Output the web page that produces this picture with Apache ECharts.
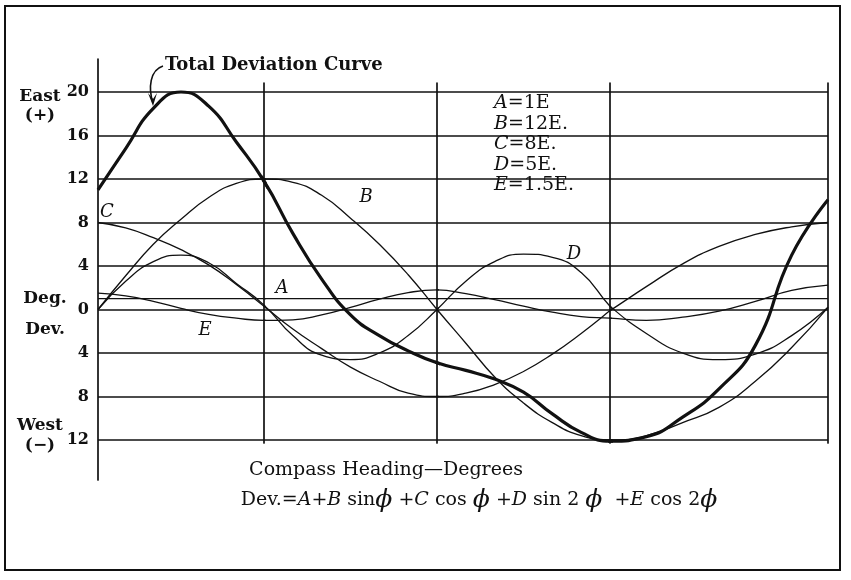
<!DOCTYPE html>
<html><head><meta charset="utf-8">
<script src="https://cdn.jsdelivr.net/npm/echarts@6/dist/echarts.min.js"></script>
<style>html,body{margin:0;padding:0;background:#fff}#c{width:851px;height:580px}</style>
</head><body><div id="c"></div>
<script>
// ---- data ----
const headings = [0,15,30,45,60,75,90,105,120,135,150,165,180,195,210,225,240,255,270,285,300,315,330,345,360];
const curveA = [1,1,1,1,1,1,1,1,1,1,1,1,1,1,1,1,1,1,1,1,1,1,1,1,1];
const curveB = [0,3.1,6.0,8.3,10.3,11.6,12.0,11.7,10.5,8.4,6.0,3.2,0,-3.1,-6.2,-8.6,-10.4,-11.6,-12.0,-11.6,-10.4,-9.0,-6.6,-3.5,0.2];
const curveC = [8.0,7.5,6.6,5.5,4.1,2.3,0.3,-1.8,-3.6,-5.3,-6.6,-7.7,-8.0,-7.7,-6.9,-5.7,-4.1,-2.2,-0.1,2.1,4.2,5.8,6.9,7.6,8.0];
const curveD = [0,2.6,4.4,5.0,4.3,2.4,0.4,-2.4,-4.2,-4.6,-4.0,-2.4,0,2.6,4.4,5.1,4.8,3.4,0.3,-2.2,-4.0,-4.6,-4.1,-2.4,0.2];
const curveE = [1.5,1.25,0.75,0.1,-0.45,-0.8,-1.0,-0.95,-0.5,0.2,0.95,1.55,1.8,1.45,0.9,0.3,-0.25,-0.65,-0.8,-1.0,-0.7,-0.15,0.75,1.75,2.25];
const totalDeviation = [11.0,14.8,18.5,20.0,18.7,15.4,11.8,7.0,2.8,-0.5,-2.4,-3.8,-4.9,-5.6,-6.4,-7.6,-9.6,-11.3,-12.1,-11.7,-9.9,-7.3,-3.3,5.0,10.1];
const quadrantEdges = [0,90,180,270,360];
const yMin = -12, yMax = 20, yStep = 4;
const curveLetters = ['A','B','C','D','E'];
const letterValues = ['1E','12E.','8E.','5E.','1.5E.'];

// ---- layout ----
const FONT = 'DejaVu Serif';
const INK = '#111';
const plotTop = 92, plotBottom = 440;            // pixel rows of 20 and -12
const pxPerUnit = (plotBottom - plotTop) / (yMax - yMin);
const quadPx = [98, 264, 437, 610, 828];          // hand-drawn vertical rules
const quadV = [[59,480],[83,443],[83,443],[83,443]];

const chart = echarts.init(document.getElementById('c'), null, {renderer:'canvas'});

const grids = [{left:quadPx[0], width:quadPx[4]-quadPx[0], top:plotTop, height:plotBottom-plotTop}];
const xAxes = [{gridIndex:0, type:'value', min:0, max:360, show:false}];
const yAxes = [{
  gridIndex:0, type:'value', min:yMin, max:yMax, interval:yStep,
  axisLine:{show:false}, axisTick:{show:false},
  splitLine:{show:true, lineStyle:{color:INK, width:1.6}},
  axisLabel:{formatter:v=>String(Math.abs(v)), fontFamily:FONT, fontWeight:'bold', fontSize:16, color:INK, margin:9}
}];
const vLine = {show:true, onZero:false, lineStyle:{color:INK, width:1.7}};
for (let q = 0; q < 4; q++) {
  const [t, b] = quadV[q];
  grids.push({left:quadPx[q], width:quadPx[q+1]-quadPx[q], top:t, height:b-t});
  xAxes.push({gridIndex:q+1, type:'value', min:quadrantEdges[q], max:quadrantEdges[q+1], show:false});
  yAxes.push({gridIndex:q+1, type:'value',
    min: yMin - (b - plotBottom)/pxPerUnit, max: yMax + (plotTop - t)/pxPerUnit,
    axisLine:vLine, axisTick:{show:false}, axisLabel:{show:false}, splitLine:{show:false}});
}
// right-hand rule of last quadrant
yAxes.push({gridIndex:4, type:'value', position:'right',
  min: yMin - (quadV[3][1] - plotBottom)/pxPerUnit, max: yMax + (plotTop - quadV[3][0])/pxPerUnit,
  axisLine:vLine, axisTick:{show:false}, axisLabel:{show:false}, splitLine:{show:false}});

const curves = [
  {name:'A', vals:curveA, w:1.3},
  {name:'B', vals:curveB, w:1.3},
  {name:'C', vals:curveC, w:1.3},
  {name:'D', vals:curveD, w:1.3},
  {name:'E', vals:curveE, w:1.3},
  {name:'Total', vals:totalDeviation, w:3.2}
];
const series = [];
for (let q = 0; q < 4; q++) {
  const lo = quadrantEdges[q], hi = quadrantEdges[q+1];
  curves.forEach(c => {
    const data = headings.map((h,j)=>[h, c.vals[j]]).filter(p => p[0] >= lo-15 && p[0] <= hi+15);
    series.push({
      type:'line', name:c.name, xAxisIndex:q+1, yAxisIndex:q+1, data,
      smooth:0.5, symbol:'none', clip:true, silent:true,
      lineStyle:{color:INK, width:c.w}
    });
  });
}

const txt = (x, y, text, extra) => ({type:'text', x, y, silent:true,
  style:Object.assign({text, fill:INK, font:'bold 17px "'+FONT+'"', textAlign:'center', textVerticalAlign:'middle'}, extra||{})});
const ital = (x, y, text) => txt(x, y, text, {font:'italic 18px "'+FONT+'"'});

const legendLines = curveLetters.map((L,i)=>({
  type:'text', left:494, top:94 + i*20.5, silent:true,
  style:{
    rich:{ i:{fontFamily:FONT, fontStyle:'italic', fontSize:19, fill:INK},
           n:{fontFamily:FONT, fontSize:19, fill:INK} },
    text:'{i|'+L+'}{n|='+letterValues[i]+'}'
  }
}));

const graphic = [
  {type:'rect', shape:{x:5, y:6, width:835, height:564}, style:{fill:'none', stroke:INK, lineWidth:2}, silent:true},
  txt(165, 65, 'Total Deviation Curve', {font:'bold 18px "'+FONT+'"', textAlign:'left'}),
  {type:'bezierCurve', silent:true, shape:{x1:163, y1:66, cpx1:150, cpy1:70, cpx2:148, cpy2:88, x2:153, y2:103},
   style:{stroke:INK, lineWidth:1.6, fill:'none'}},
  {type:'polygon', silent:true, shape:{points:[[148,93],[153,106],[157,93],[153,99]]}, style:{fill:INK}},
  txt(40, 97, 'East'), txt(40, 116, '(+)'),
  txt(45, 299, 'Deg.'), txt(45, 330, 'Dev.'),
  txt(40, 426, 'West'), txt(40, 446, '(\u2212)'),
  ital(107, 212, 'C'), ital(366, 197, 'B'), ital(574, 254, 'D'), ital(282, 288, 'A'), ital(205, 330, 'E'),
  txt(386, 470, 'Compass Heading\u2014Degrees', {font:'19px "'+FONT+'"'}),
  {type:'text', silent:true, x:479, y:500,
   style:{
     textAlign:'center', textVerticalAlign:'middle',
     rich:{ n:{fontFamily:FONT, fontSize:19, fill:INK},
            i:{fontFamily:FONT, fontSize:19, fontStyle:'italic', fill:INK},
            p:{fontFamily:FONT, fontSize:25, fontStyle:'italic', fill:INK} },
     text:'{n|Dev.=}{i|A}{n|+}{i|B}{n| sin}{p|\u03d5}{n| +}{i|C}{n| cos }{p|\u03d5}{n| +}{i|D}{n| sin 2 }{p|\u03d5}{n|  +}{i|E}{n| cos 2}{p|\u03d5}'
   }}
].concat(legendLines);

chart.setOption({
  animation:false,
  backgroundColor:'#fff',
  grid:grids, xAxis:xAxes, yAxis:yAxes, series, graphic
});
</script></body></html>
